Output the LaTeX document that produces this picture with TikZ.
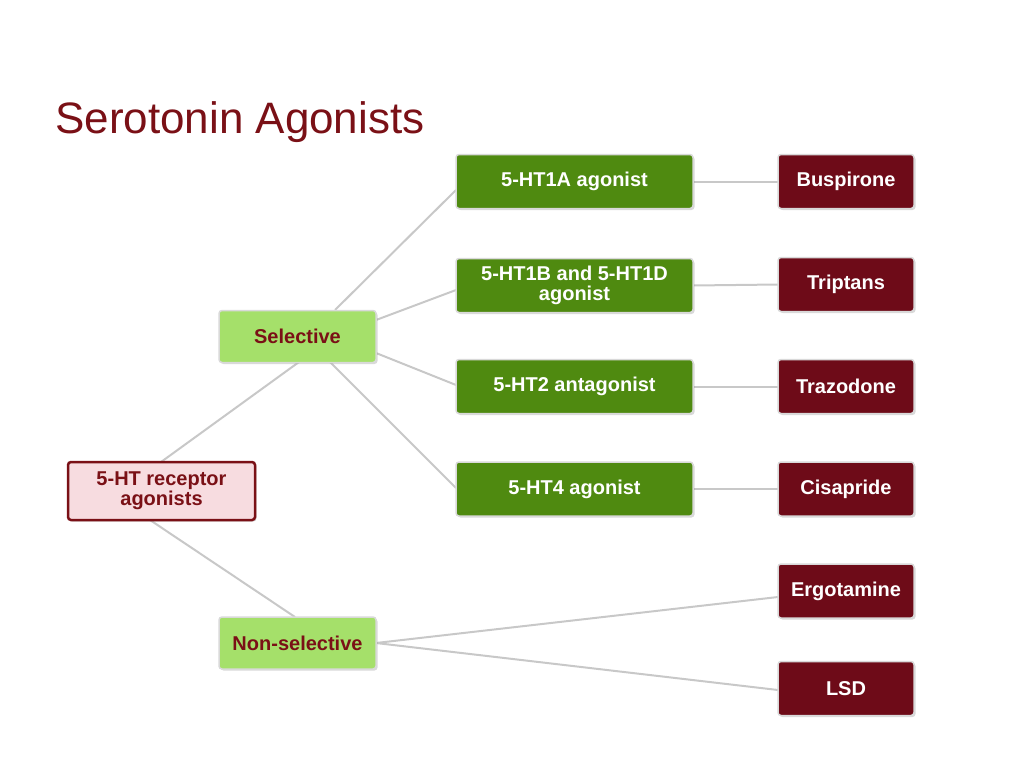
\documentclass[tikz,border=0pt]{standalone}
\usepackage{fontspec}
\setmainfont{Liberation Sans}
\usetikzlibrary{shadows}
\definecolor{tred}{HTML}{7A1016}
\definecolor{dred}{HTML}{6E0B18}
\definecolor{gdark}{HTML}{4F8A10}
\definecolor{glight}{HTML}{A5E06A}
\definecolor{pink}{HTML}{F7DCE0}
\definecolor{edge}{HTML}{C8C8C8}
\begin{document}
\begin{tikzpicture}[x=1pt,y=-1pt,
  box/.style={draw=black!15,line width=1.5pt,rounded corners=3pt,align=center,font=\bfseries\fontsize{20}{20}\selectfont,inner sep=0pt,drop shadow={opacity=0.3,shadow xshift=1.5pt,shadow yshift=-1.5pt}},
  green/.style={box,fill=gdark,text=white,minimum width=237,minimum height=54},
  red/.style={box,fill=dred,text=white,minimum width=136,minimum height=54},
  lite/.style={box,fill=glight,text=tred,minimum width=157,minimum height=52},
  conn/.style={draw=edge,line width=2pt}]
\useasboundingbox (0,0) rectangle (1024,768);
\node[anchor=base west,text=tred,font=\fontsize{44}{44}\selectfont,inner sep=0pt] (title) at (55,133) {Serotonin Agonists};
\draw[conn] (161,462) -- (299,362);
\draw[conn] (150,520) -- (295,617);
\draw[conn] (335,310) -- (456,190);
\draw[conn] (376,320) -- (456,290);
\draw[conn] (376,353) -- (456,385);
\draw[conn] (330,362) -- (456,488);
\draw[conn] (693,181.5) -- (778,181.5);
\draw[conn] (693,285.5) -- (778,284.5);
\draw[conn] (693,386.5) -- (778,386.5);
\draw[conn] (693,489) -- (778,489);
\draw[conn] (376,643) -- (778,597);
\draw[conn] (376,643) -- (778,690);
\node[box,fill=pink,draw=tred,line width=2.5pt,text=tred,minimum width=187,minimum height=58] (root) at (161.5,491) {5-HT receptor\\agonists};
\node[lite] (sel) at (297.5,336.5) {Selective};
\node[lite] (non) at (297.5,643) {Non-selective};
\node[green] (g1) at (574.5,181.5) {5-HT1A agonist};
\node[green] (g2) at (574.5,285.5) {5-HT1B and 5-HT1D\\agonist};
\node[green] (g3) at (574.5,386.5) {5-HT2 antagonist};
\node[green] (g4) at (574.5,489) {5-HT4 agonist};
\node[red] (r1) at (846,181.5) {Buspirone};
\node[red] (r2) at (846,284.5) {Triptans};
\node[red] (r3) at (846,386.5) {Trazodone};
\node[red] (r4) at (846,489) {Cisapride};
\node[red] (r5) at (846,591) {Ergotamine};
\node[red] (r6) at (846,688.5) {LSD};
\end{tikzpicture}
\end{document}
